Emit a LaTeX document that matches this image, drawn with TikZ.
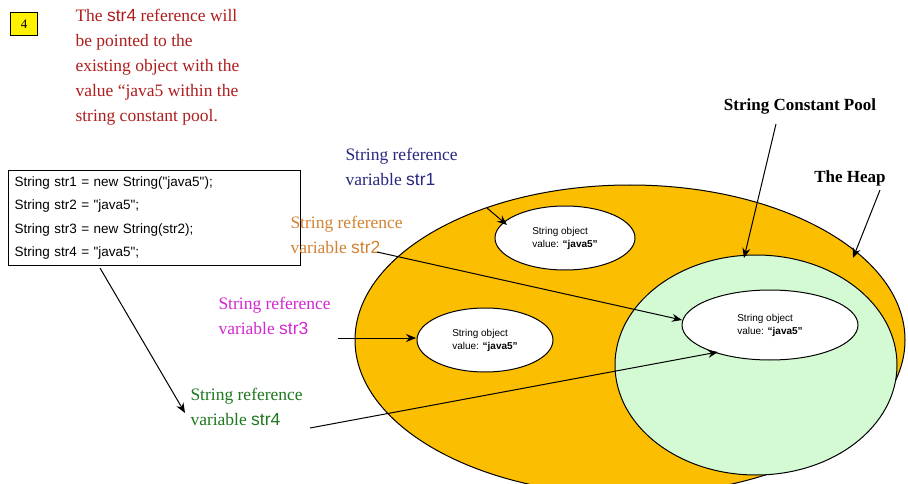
\documentclass[tikz,border=0pt]{standalone}
\usepackage{fontspec}
\setmainfont{Liberation Serif}
\newfontfamily\arial{Liberation Sans}
\usetikzlibrary{arrows.meta,shapes.geometric}
\definecolor{redt}{RGB}{175,30,30}
\definecolor{navyt}{RGB}{40,40,130}
\definecolor{brownt}{RGB}{210,130,50}
\definecolor{magt}{RGB}{210,40,210}
\definecolor{greent}{RGB}{30,120,30}
\definecolor{heap}{RGB}{252,190,0}
\definecolor{pool}{RGB}{212,250,212}
\begin{document}
\begin{tikzpicture}[x=1pt,y=-1pt,line width=1pt,
  lbl/.style={align=left,anchor=north west,inner sep=0pt,font=\fontsize{17.5}{24.5}\selectfont},
  obj/.style={ellipse,draw,fill=white,align=left,font=\arial\fontsize{10}{13}\selectfont},
  arr/.style={-{Stealth[length=10pt,width=8pt]},line width=1pt}]
\useasboundingbox (0,0) rectangle (908,484);
\node[draw,fill=yellow,minimum width=27,minimum height=23,inner sep=0pt,font=\fontsize{13}{15}\selectfont] (n4) at (24,24) {4};
\node[lbl,text=redt,font=\fontsize{17.5}{24.8}\selectfont] (note) at (75,9) {The {\arial str4} reference will\\be pointed to the\\existing object with the\\value “java5 within the\\string constant pool.};
\node[draw,anchor=north west,align=left,inner sep=6pt,text width=280,font=\arial\fontsize{13.5}{23.5}\selectfont] (code) at (8,170) {String str1 = new String("java5");\\String str2 = "java5";\\String str3 = new String(str2);\\String str4 = "java5";};
\coordinate (c4) at (100,268);
% ellipses
\draw[fill=heap] (630,340) ellipse [x radius=275, y radius=155];
\draw[fill=pool] (756,365) ellipse [x radius=141, y radius=110];
\node[obj,minimum width=140,minimum height=64] (o1) at (565,238) {String object\\value: \textbf{“java5”}};
\node[obj,minimum width=136,minimum height=64] (o3) at (485,340) {String object\\value: \textbf{“java5”}};
\node[obj,minimum width=176,minimum height=70] (o5) at (770,325) {String object\\value: \textbf{“java5”}};
% labels
\node[lbl,text=navyt] (l1) at (345,148) {String reference\\variable {\arial str1}};
\node[lbl,text=brownt] (l2) at (290,216) {String reference\\variable {\arial str2}};
\node[lbl,text=magt] (l3) at (218,297) {String reference\\variable {\arial str3}};
\node[lbl,text=greent] (l4) at (190,388) {String reference\\variable {\arial str4}};
\node[font=\bfseries\fontsize{17}{20}\selectfont] (scp) at (800,106) {String Constant Pool};
\node[font=\bfseries\fontsize{17}{20}\selectfont] (th) at (850,178) {The Heap};
% arrows
\draw[arr] (487,208) -- (507,225);
\draw[arr] (377,252) -- (682,320);
\draw[arr] (338,338) -- (416,338);
\draw[arr] (310,428) -- (718,352);
\draw[arr] (c4) -- (185,413);
\draw[arr] (776,124) -- (744,258);
\draw[arr] (880,190) -- (853,258);
\end{tikzpicture}
\end{document}
